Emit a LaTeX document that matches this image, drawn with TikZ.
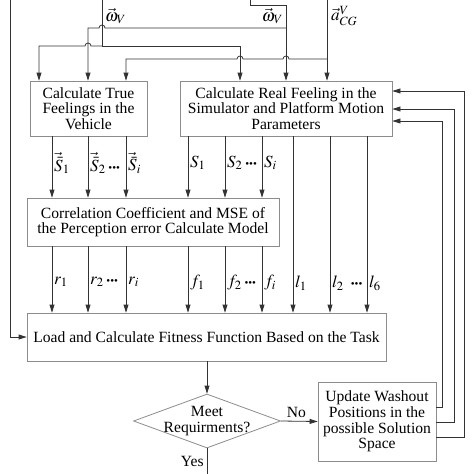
\documentclass[tikz,border=0pt]{standalone}
\usepackage{mathptmx}
\usepackage[no-math]{fontspec}
\setmainfont{Liberation Serif}
\usetikzlibrary{arrows.meta,shapes.geometric}
\newcommand{\tridots}{\,{\fontsize{11}{11}\selectfont\textbullet\textbullet\textbullet}}

\begin{document}
\begin{tikzpicture}[x=1pt,y=-1pt,
        box/.style={draw=black!45,line width=0.8pt,align=center,inner sep=0pt,font=\fontsize{15.6}{15.6}\selectfont},
        decision/.style={draw=black!45,line width=0.8pt,diamond,inner sep=0pt,minimum width=147pt,minimum height=54pt},
        wire/.style={draw=black!80,line width=0.8pt},
        arr/.style={wire,-{Triangle[length=8pt,width=5pt]}},
        lab/.style={inner sep=0pt,anchor=west,font=\fontsize{17}{17}\selectfont}]
        \useasboundingbox (0,0) rectangle (474,474);

        \node[box,minimum width=117pt,minimum height=55pt] (truefeel) at (88.5,108.5) {Calculate True\\Feelings in the\\Vehicle};
        \node[box,minimum width=212pt,minimum height=55pt] (realfeel) at (286,108.5) {Calculate Real Feeling in the\\Simulator and Platform Motion\\Parameters};
        \node[box,minimum width=252pt,minimum height=48pt] (corr) at (153,222) {Correlation Coefficient and MSE of\\the Perception error Calculate Model};
        \node[box,minimum width=359pt,minimum height=48pt] (fitness) at (206.5,337) {Load and Calculate Fitness Function Based on the Task};
        \node[decision,label={[box,draw=none]center:{Meet\\Requirments?}}] (meet) at (207,421) {};
        \node[box,minimum width=118pt,minimum height=79pt] (update) at (377,421.5) {Update Washout\\Positions in the\\possible Solution\\Space};

        \coordinate (inL) at (102,0);
        \coordinate (inR) at (250,0);
        \coordinate (inA) at (327,0);
        \coordinate (rim) at (10,0);
        \coordinate (bottom) at (207,474);

        % inputs from the top
        \draw[wire] (inL) -- (102,46);
        \draw[arr] (102,46) -- (91,46) arc (0:-180:3) -- (39,46) -- (39,0 |- truefeel.north);
        \draw[arr] (102,46) -- (240,46) -- (240,0 |- realfeel.north);
        \draw[wire] (inR) -- (250,5) -- (286,5);
        \draw[arr] (286,5) -- (286,0 |- realfeel.north);
        \draw[arr] (286,28) -- (105,28) arc (0:-180:3) -- (88,28) -- (88,0 |- truefeel.north);
        \draw[arr] (inA) -- (327,0 |- realfeel.north);
        \draw[arr] (327,59) -- (289,59) arc (0:-180:3) -- (243,59) arc (0:-180:3) -- (126,59) -- (126,0 |- truefeel.north);

        \node[lab] (wLlab) at (105,16) {$\vec{\omega}_V$};
        \node[lab,anchor=east] (wRlab) at (283,16) {$\vec{\omega}_V$};
        \node[lab] (alab) at (331,16) {$\vec{a}_{CG}^{V}$};

        % feelings to the model
        \draw[arr] (52,0 |- truefeel.south) -- (52,0 |- corr.north);
        \draw[arr] (88,0 |- truefeel.south) -- (88,0 |- corr.north);
        \draw[arr] (126,0 |- truefeel.south) -- (126,0 |- corr.north);
        \draw[arr] (188,0 |- realfeel.south) -- (188,0 |- corr.north);
        \draw[arr] (225,0 |- realfeel.south) -- (225,0 |- corr.north);
        \draw[arr] (262,0 |- realfeel.south) -- (262,0 |- corr.north);
        \draw[arr] (293,0 |- realfeel.south) -- (293,0 |- fitness.north);
        \draw[arr] (330,0 |- realfeel.south) -- (330,0 |- fitness.north);
        \draw[arr] (367,0 |- realfeel.south) -- (367,0 |- fitness.north);

        \node[lab] (sv1) at (54,163) {$\vec{\bar{S}}_1$};
        \node[lab] (sv2) at (90,163) {$\vec{\bar{S}}_2$\tridots};
        \node[lab] (svi) at (128,163) {$\vec{\bar{S}}_i$};
        \node[lab] (s1) at (190,163) {$S_1$};
        \node[lab] (s2) at (227,163) {$S_2$\tridots};
        \node[lab] (si) at (264,163) {$S_i$};

        % model to the fitness function
        \draw[arr] (52,0 |- corr.south) -- (52,0 |- fitness.north);
        \draw[arr] (88,0 |- corr.south) -- (88,0 |- fitness.north);
        \draw[arr] (126,0 |- corr.south) -- (126,0 |- fitness.north);
        \draw[arr] (188,0 |- corr.south) -- (188,0 |- fitness.north);
        \draw[arr] (225,0 |- corr.south) -- (225,0 |- fitness.north);
        \draw[arr] (262,0 |- corr.south) -- (262,0 |- fitness.north);

        \node[lab] (r1) at (54,282) {$r_1$};
        \node[lab] (r2) at (90,282) {$r_2$\tridots};
        \node[lab] (ri) at (128,282) {$r_i$};
        \node[lab] (f1) at (190,283) {$f_1$};
        \node[lab] (f2) at (227,283) {$f_2$\tridots};
        \node[lab] (fi) at (264,283) {$f_i$};
        \node[lab] (l1) at (295,283) {$l_1$};
        \node[lab] (l2) at (332,283) {$l_2$\ \tridots};
        \node[lab] (l6) at (369,283) {$l_6$};

        \draw[arr] (rim) |- (fitness.west);
        \draw[arr] (meet.north |- fitness.south) -- (meet.north);
        \draw[arr] (meet.east) -- node[box,draw=none,anchor=south,pos=0.42,yshift=3pt] (nolab) {No} (update.west);
        \draw[wire] (meet.south) -- node[box,draw=none,anchor=east,xshift=-3pt] (yeslab) {Yes} (bottom);

        % feedback to the simulator
        \draw[arr] (update.east |- 0,407) -| (442,121) -- (realfeel.east |- 0,121);
        \draw[arr] (update.east |- 0,422) -| (454,109) -- (realfeel.east |- 0,109);
        \draw[arr] (update.east |- 0,437) -| (464,91) -- (realfeel.east |- 0,91);
\end{tikzpicture}
\end{document}
